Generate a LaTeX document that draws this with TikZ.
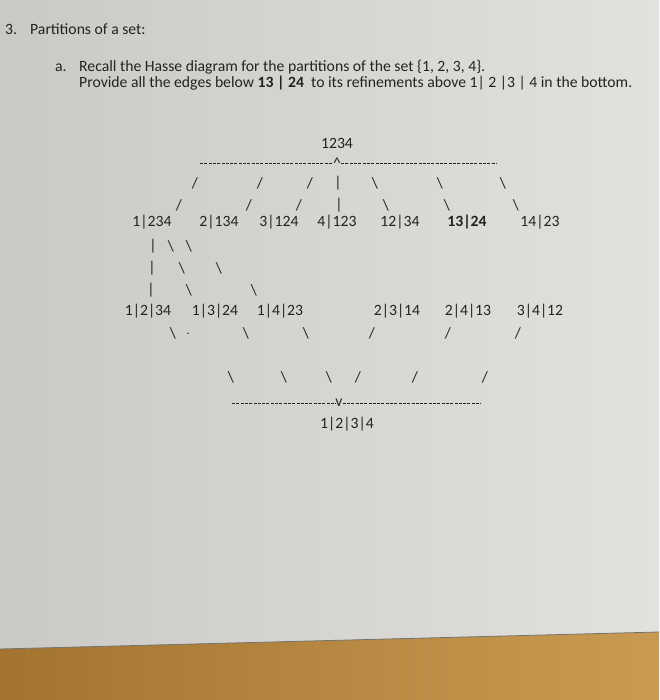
\documentclass[tikz,border=0pt]{standalone}
\usepackage{fontspec}
\setmainfont{Carlito}
\usepackage{tikz}

\definecolor{ink}{HTML}{232323}
\definecolor{paperL}{HTML}{CBC9C5}
\definecolor{paperR}{HTML}{E2E1DE}
\definecolor{deskL}{HTML}{A3742F}
\definecolor{deskR}{HTML}{C99B52}

\newcommand{\edgeF}{/}
\newcommand{\edgeB}{\textbackslash}
\newcommand{\edgeV}{|}

\begin{document}
\begin{tikzpicture}[x=1pt, y=-1pt,
    txt/.style={
        % The font
        font=\fontsize{15.7}{19}\selectfont,
        % The colour
        text=ink,
        % No padding
        inner sep=0pt
    },
    part/.style={
        txt,
        % Placed on the baseline
        anchor=base
    },
    edgemark/.style={
        txt,
        anchor=center
    },
    rule/.style={
        draw=ink,
        line width=0.6pt,
        dash pattern=on 3pt off 1.3pt
    }]

    % The paper and the desk
    \useasboundingbox (0,0) rectangle (659,700);
    \shade[left color=paperL, right color=paperR] (0,0) rectangle (659,700);
    \shade[left color=deskL, right color=deskR]
        (0,649) -- (659,632) -- (659,700) -- (0,700) -- cycle;
    \draw[draw=black!55, line width=0.8pt] (0,649) -- (659,632);

    % The question
    \node[txt, anchor=base west] (num)   at (5,35)  {3.};
    \node[txt, anchor=base west] (title) at (30,35) {Partitions of a set:};
    \node[txt, anchor=base west] (itema) at (55,72) {a.};
    \node[txt, anchor=base west] (lineA) at (79,72)
        {Recall the Hasse diagram for the partitions of the set \{1, 2, 3, 4\}.};
    \node[txt, anchor=base west] (lineB) at (79,88)
        {Provide all the edges below \textbf{13 | 24}\ \ to its refinements above 1| 2 |3 | 4 in the bottom.};

    % Top and bottom of the lattice
    \node[part] (top) at (337,149) {1234};
    \coordinate (topL) at (200,163);
    \coordinate (topR) at (496,163);
    \node[edgemark] (cap) at (337,163) {\^{}};
    \draw[rule] (topL) -- (cap.west);
    \draw[rule] (cap.east) -- (topR);

    \node[part] (bot) at (347,428) {1|2|3|4};
    \coordinate (botL) at (232,403);
    \coordinate (botR) at (481,403);
    \node[edgemark] (cup) at (339,403) {v};
    \draw[rule] (botL) -- (cup.west);
    \draw[rule] (cup.east) -- (botR);

    % Two blocks
    \foreach \x/\xtext/\xname in {152/1|234/a, 219/2|134/b, 279/3|124/c,
        337/4|123/d, 400/12|34/e, 540/14|23/g}
    {
        \node[part] (two\xname) at (\x,227) {\xtext};
    }
    \node[part] (twof) at (467,227) {\textbf{13|24}};

    % Three blocks
    \foreach \x/\xtext/\xname in {148/1|2|34/a, 215/1|3|24/b, 280/1|4|23/c,
        397/2|3|14/d, 468/2|4|13/e, 540/3|4|12/f}
    {
        \node[part] (three\xname) at (\x,315) {\xtext};
    }

    % The edges, typed as strokes
    \foreach \x/\xmark in {195/\edgeF, 260/\edgeF, 310/\edgeF, 338/\edgeV,
        375/\edgeB, 440/\edgeB, 503/\edgeB}
        \node[edgemark] (ea\x) at (\x,183) {\xmark};
    \foreach \x/\xmark in {179/\edgeF, 249/\edgeF, 299/\edgeF, 339/\edgeV,
        386/\edgeB, 447/\edgeB, 516/\edgeB}
        \node[edgemark] (eb\x) at (\x,205) {\xmark};
    \foreach \x/\xmark in {153/\edgeV, 171/\edgeB, 189/\edgeB}
        \node[edgemark] (ec\x) at (\x,246) {\xmark};
    \foreach \x/\xmark in {152/\edgeV, 182/\edgeB, 219/\edgeB}
        \node[edgemark] (ed\x) at (\x,268) {\xmark};
    \foreach \x/\xmark in {151/\edgeV, 189/\edgeB, 254/\edgeB}
        \node[edgemark] (ee\x) at (\x,290) {\xmark};
    \foreach \x/\xmark in {173/\edgeB, 246/\edgeB, 306/\edgeB,
        372/\edgeF, 448/\edgeF, 518/\edgeF}
        \node[edgemark] (ef\x) at (\x,333) {\xmark};
    \foreach \x/\xmark in {231/\edgeB, 284/\edgeB, 329/\edgeB,
        358/\edgeF, 415/\edgeF, 485/\edgeF}
        \node[edgemark] (eg\x) at (\x,377) {\xmark};
    \node[edgemark] (speck) at (188,334) {$\cdot$};
\end{tikzpicture}
\end{document}
